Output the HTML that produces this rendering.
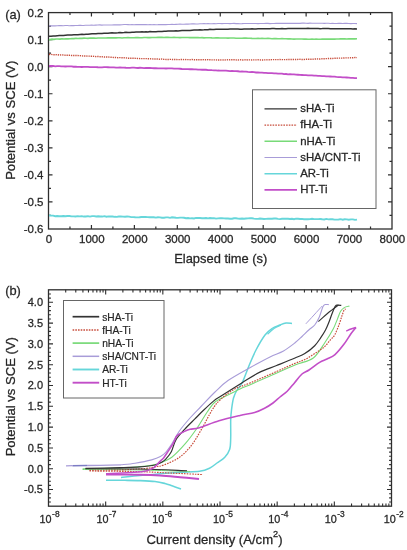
<!DOCTYPE html>
<html><head><meta charset="utf-8"><title>Figure</title>
<style>html,body{margin:0;padding:0;background:#fff;width:407px;height:550px;overflow:hidden}svg{display:block}</style>
</head><body>
<svg width="407" height="550" viewBox="0 0 407 550" font-family="Liberation Sans, Arial, sans-serif"><style>text{stroke:#2a2a2a;stroke-width:0.28px;paint-order:stroke}</style><rect x="48.5" y="12.6" width="343.5" height="216.4" fill="none" stroke="#2e2e2e" stroke-width="1.3"/>
<path d="M69.97 229 v-2.5 M69.97 12.6 v2.5 M91.44 229 v-4 M91.44 12.6 v4 M112.91 229 v-2.5 M112.91 12.6 v2.5 M134.38 229 v-4 M134.38 12.6 v4 M155.84 229 v-2.5 M155.84 12.6 v2.5 M177.31 229 v-4 M177.31 12.6 v4 M198.78 229 v-2.5 M198.78 12.6 v2.5 M220.25 229 v-4 M220.25 12.6 v4 M241.72 229 v-2.5 M241.72 12.6 v2.5 M263.19 229 v-4 M263.19 12.6 v4 M284.66 229 v-2.5 M284.66 12.6 v2.5 M306.12 229 v-4 M306.12 12.6 v4 M327.59 229 v-2.5 M327.59 12.6 v2.5 M349.06 229 v-4 M349.06 12.6 v4 M370.53 229 v-2.5 M370.53 12.6 v2.5 M48.5 215.47 h2.5 M392 215.47 h-2.5 M48.5 201.95 h4 M392 201.95 h-4 M48.5 188.42 h2.5 M392 188.42 h-2.5 M48.5 174.9 h4 M392 174.9 h-4 M48.5 161.38 h2.5 M392 161.38 h-2.5 M48.5 147.85 h4 M392 147.85 h-4 M48.5 134.32 h2.5 M392 134.32 h-2.5 M48.5 120.8 h4 M392 120.8 h-4 M48.5 107.27 h2.5 M392 107.27 h-2.5 M48.5 93.75 h4 M392 93.75 h-4 M48.5 80.22 h2.5 M392 80.22 h-2.5 M48.5 66.7 h4 M392 66.7 h-4 M48.5 53.18 h2.5 M392 53.18 h-2.5 M48.5 39.65 h4 M392 39.65 h-4 M48.5 26.12 h2.5 M392 26.12 h-2.5" stroke="#2e2e2e" stroke-width="1.2" fill="none"/>
<g font-size="11.5" fill="#262626"><text x="43.5" y="16.5" text-anchor="end">0.2</text><text x="43.5" y="43.55" text-anchor="end">0.1</text><text x="43.5" y="70.6" text-anchor="end">0.0</text><text x="43.5" y="97.65" text-anchor="end">-0.1</text><text x="43.5" y="124.7" text-anchor="end">-0.2</text><text x="43.5" y="151.75" text-anchor="end">-0.3</text><text x="43.5" y="178.8" text-anchor="end">-0.4</text><text x="43.5" y="205.85" text-anchor="end">-0.5</text><text x="43.5" y="232.9" text-anchor="end">-0.6</text><text x="48.9" y="243.2" text-anchor="middle">0</text><text x="91.84" y="243.2" text-anchor="middle">1000</text><text x="134.78" y="243.2" text-anchor="middle">2000</text><text x="177.71" y="243.2" text-anchor="middle">3000</text><text x="220.65" y="243.2" text-anchor="middle">4000</text><text x="263.59" y="243.2" text-anchor="middle">5000</text><text x="306.52" y="243.2" text-anchor="middle">6000</text><text x="349.46" y="243.2" text-anchor="middle">7000</text><text x="392.4" y="243.2" text-anchor="middle">8000</text></g>
<text x="5.2" y="18.9" font-size="12.8" fill="#262626">(a)</text>
<text x="220.8" y="263.3" font-size="12.9" fill="#262626" text-anchor="middle">Elapsed time (s)</text>
<text transform="translate(15.4 120.2) rotate(-90)" font-size="13.1" fill="#262626" text-anchor="middle">Potential vs SCE (V)</text>
<path d="M49 25.82 L51.03 25.88 L53.06 25.79 L55.09 25.83 L57.11 25.8 L59.14 25.6 L61.17 25.55 L63.2 25.76 L65.23 25.55 L67.26 25.51 L69.29 25.71 L71.31 25.51 L73.34 25.59 L75.37 25.45 L77.4 25.46 L79.43 25.28 L81.46 25.39 L83.49 25.43 L85.51 25.29 L87.54 25.32 L89.57 25.27 L91.6 25.05 L93.63 25.22 L95.66 25.14 L97.69 25.02 L99.71 24.9 L101.74 25.12 L103.77 24.97 L105.8 25.01 L107.83 25.02 L109.86 24.94 L111.89 24.96 L113.91 24.77 L115.94 24.86 L117.97 24.72 L120 24.83 L122 24.81 L124 24.56 L126 24.57 L128 24.58 L130 24.8 L132 24.63 L134 24.68 L136 24.57 L138 24.63 L140 24.58 L142 24.56 L144 24.63 L146 24.62 L148 24.7 L150 24.63 L152 24.7 L154 24.67 L156 24.7 L158 24.59 L160 24.43 L162 24.63 L164 24.66 L166 24.63 L168 24.52 L170 24.52 L172 24.33 L174 24.47 L176 24.35 L178 24.22 L180 24.11 L182 24.31 L184 24.3 L186 23.99 L188 24.16 L190 24 L192 23.88 L194 23.88 L196 23.98 L198 23.97 L200 23.68 L202 23.81 L204 23.59 L206 23.75 L208 23.59 L210 23.71 L212 23.74 L214 23.59 L216 23.74 L218 23.53 L220 23.45 L222 23.61 L224 23.43 L226 23.48 L228 23.54 L230 23.59 L232 23.45 L234 23.41 L236 23.66 L238 23.49 L240 23.68 L242 23.65 L244 23.5 L246 23.52 L248 23.53 L250 23.56 L252 23.54 L254 23.53 L256 23.54 L258 23.64 L260 23.5 L262 23.47 L264 23.54 L266 23.39 L268 23.39 L270 23.58 L272 23.43 L274 23.43 L276 23.26 L278 23.37 L280 23.4 L282 23.22 L284 23.39 L286 23.38 L288 23.2 L290 23.36 L292 23.3 L294 23.35 L296 23.24 L298 23.33 L300 23.33 L302 23.1 L304 23.1 L306 23.28 L308 23.35 L310 23.13 L312.04 23.2 L314.09 23.26 L316.13 23.2 L318.17 23.23 L320.22 23.23 L322.26 23.27 L324.3 23.35 L326.35 23.28 L328.39 23.32 L330.43 23.46 L332.48 23.25 L334.52 23.43 L336.57 23.5 L338.61 23.39 L340.65 23.38 L342.7 23.57 L344.74 23.42 L346.78 23.42 L348.83 23.51 L350.87 23.61 L352.91 23.45 L354.96 23.53 L357 23.6" stroke="#a89cd8" stroke-width="1.1" fill="none"/>
<path d="M49 36.15 L51.07 36.19 L53.13 35.95 L55.2 35.97 L57.27 35.65 L59.33 35.58 L61.4 35.57 L63.47 35.52 L65.53 35.28 L67.6 35.1 L69.67 34.95 L71.73 34.96 L73.8 34.75 L75.87 34.82 L77.93 34.71 L80 34.41 L82 34.34 L84 34.4 L86 34.26 L88 34.21 L90 33.98 L92 33.82 L94 33.77 L96 33.83 L98 33.58 L100 33.5 L102 33.43 L104 33.34 L106 33.24 L108 33.3 L110 32.97 L112 32.83 L114 33.02 L116 32.9 L118 32.84 L120 32.58 L122 32.68 L124 32.61 L126 32.34 L128 32.44 L130 32.41 L132 32.3 L134 32.2 L136 32.07 L138 32.03 L140 31.93 L142 31.83 L144 31.93 L146 31.78 L148 31.88 L150 31.59 L152 31.79 L154 31.67 L156 31.68 L158 31.61 L160 31.55 L162 31.4 L164 31.17 L166 31.33 L168 31.1 L170 31.06 L172 31.09 L174 30.96 L176 30.85 L178 30.93 L180 30.75 L182 30.59 L184 30.48 L186 30.58 L188 30.38 L190 30.39 L192 30.18 L194 30.06 L196 30.08 L198 30.08 L200 29.81 L202 29.91 L204 29.87 L206 29.75 L208 29.68 L210 29.35 L212 29.51 L214 29.55 L216 29.28 L218 29.32 L220 29.29 L222 29.34 L224 29.28 L226 29.27 L228 29.33 L230 29.07 L232 29.06 L234 29.05 L236 29.02 L238 28.98 L240 29.22 L242 29.16 L244 28.9 L246 29 L248 28.91 L250 28.88 L252 28.87 L254 28.93 L256 28.88 L258 28.79 L260 28.71 L262 28.73 L264 28.66 L266 28.77 L268 28.8 L270 28.68 L272 28.58 L274 28.59 L276 28.63 L278 28.69 L280 28.72 L282 28.59 L284 28.7 L286 28.63 L288 28.56 L290 28.52 L292 28.54 L294 28.59 L296 28.49 L298 28.55 L300 28.47 L302 28.39 L304 28.46 L306 28.49 L308 28.29 L310 28.38 L312.04 28.4 L314.09 28.56 L316.13 28.6 L318.17 28.45 L320.22 28.63 L322.26 28.62 L324.3 28.48 L326.35 28.56 L328.39 28.48 L330.43 28.71 L332.48 28.69 L334.52 28.78 L336.57 28.77 L338.61 28.75 L340.65 28.8 L342.7 28.77 L344.74 28.65 L346.78 28.82 L348.83 28.66 L350.87 28.73 L352.91 28.94 L354.96 28.74 L357 28.9" stroke="#333333" stroke-width="1.5" fill="none"/>
<path d="M49 39.88 L52 39.18 L54 39.34 L56 39.06 L58 38.94 L60 39.12 L62 38.83 L64 38.97 L66 38.85 L68 38.83 L70 38.79 L72 38.61 L74 38.6 L76 38.3 L78 38.45 L80 38.3 L82 38.34 L84 38.13 L86 38.3 L88 38.33 L90 38.04 L92 38.1 L94 38.14 L96 38.2 L98 38 L100 37.95 L102 37.95 L104 38.03 L106 38.05 L108 37.92 L110 37.89 L112 37.87 L114 37.83 L116 37.83 L118 37.7 L120 37.8 L122 37.93 L124 37.74 L126 37.82 L128 37.63 L130 37.77 L132 37.78 L134 37.74 L136 37.67 L138 37.65 L140 37.68 L142 37.74 L144 37.49 L146 37.46 L148 37.64 L150 37.67 L152 37.54 L154 37.5 L156 37.57 L158 37.39 L160 37.4 L162 37.36 L164 37.46 L166 37.36 L168 37.32 L170 37.48 L172 37.57 L174 37.4 L176 37.54 L178 37.47 L180 37.62 L182 37.56 L184 37.48 L186 37.49 L188 37.45 L190 37.6 L192 37.59 L194 37.55 L196 37.62 L198 37.63 L200 37.79 L202 37.62 L204 37.89 L206 37.76 L208 37.81 L210 37.79 L212 37.92 L214 37.94 L216 37.89 L218 37.89 L220 37.99 L222 38.05 L224 37.94 L226 38.06 L228 38.15 L230 38.03 L232 37.98 L234 38.01 L236 38.18 L238 38.19 L240 38.3 L242 38.29 L244 38.13 L246 38.14 L248 38.18 L250 38.19 L252 38.37 L254 38.44 L256 38.47 L258 38.3 L260 38.51 L262 38.38 L264 38.44 L266 38.56 L268 38.4 L270 38.44 L272 38.69 L274 38.56 L276 38.61 L278 38.71 L280 38.77 L282 38.6 L284 38.73 L286 38.8 L288 38.84 L290 38.79 L292 38.94 L294 39.08 L296 38.94 L298 39.02 L300 38.93 L302 39 L304 39.15 L306 39.02 L308 39.28 L310 39.32 L312.04 39.06 L314.09 39.3 L316.13 39.11 L318.17 39.21 L320.22 39.19 L322.26 39.03 L324.3 39.13 L326.35 39.11 L328.39 39.14 L330.43 38.96 L332.48 39.08 L334.52 39.13 L336.57 39.03 L338.61 38.97 L340.65 38.82 L342.7 38.92 L344.74 38.86 L346.78 38.95 L348.83 38.92 L350.87 38.87 L352.91 38.74 L354.96 38.86 L357 38.8" stroke="#78da78" stroke-width="1.6" fill="none"/>
<path d="M49 54.44 L51.05 54.39 L53.1 54.7 L55.15 54.72 L57.2 54.65 L59.25 54.98 L61.3 54.83 L63.35 54.98 L65.4 55.19 L67.45 55.24 L69.5 55.32 L71.55 55.43 L73.6 55.47 L75.65 55.51 L77.7 55.56 L79.75 55.62 L81.8 55.9 L83.85 56.01 L85.9 56.03 L87.95 56.18 L90 56.16 L92 56.23 L94 56.37 L96 56.61 L98 56.46 L100 56.7 L102 56.72 L104 56.98 L106 56.96 L108 57.05 L110 57.17 L112 57.31 L114 57.48 L116 57.46 L118 57.7 L120 57.58 L122 57.73 L124 57.78 L126 57.88 L128 58.18 L130 58.27 L132 58.17 L134 58.23 L136 58.36 L138 58.53 L140 58.61 L142 58.65 L144 58.67 L146 58.6 L148 58.74 L150 58.74 L152 58.9 L154 58.98 L156 58.93 L158 59.01 L160 59.23 L162 59.07 L164 59.36 L166 59.45 L168 59.53 L170 59.38 L172 59.45 L174 59.48 L176 59.52 L178 59.64 L180 59.57 L182 59.47 L184 59.66 L186 59.57 L188 59.62 L190 59.68 L192 59.48 L194 59.73 L196 59.72 L198 59.69 L200 59.71 L202 59.72 L204 59.65 L206 59.77 L208 59.65 L210 59.8 L212 59.87 L214 59.83 L216 59.88 L218 60.02 L220 60.02 L222 59.79 L224 59.98 L226 59.92 L228 59.75 L230 59.84 L232 59.8 L234 59.74 L236 59.88 L238 59.99 L240 59.81 L242 59.97 L244 59.91 L246 59.74 L248 59.95 L250 59.87 L252 59.96 L254 59.89 L256 59.9 L258 59.77 L260 59.91 L262 59.94 L264 59.92 L266 59.79 L268 59.88 L270 59.77 L272 59.64 L274 59.59 L276 59.58 L278 59.59 L280 59.56 L282 59.63 L284 59.67 L286 59.6 L288 59.54 L290 59.58 L292 59.46 L294 59.48 L296 59.54 L298 59.41 L300 59.32 L302 59.52 L304 59.44 L306 59.31 L308 59.29 L310 59.31 L312.04 59.26 L314.09 59.07 L316.13 58.93 L318.17 58.92 L320.22 59.02 L322.26 58.75 L324.3 58.77 L326.35 58.62 L328.39 58.55 L330.43 58.46 L332.48 58.46 L334.52 58.31 L336.57 58.2 L338.61 58.15 L340.65 58.09 L342.7 58.11 L344.74 57.91 L346.78 57.83 L348.83 57.88 L350.87 57.79 L352.91 57.81 L354.96 57.54 L357 57.6" stroke="#c84e3c" stroke-width="1.4" fill="none" stroke-dasharray="1.3 0.9"/>
<path d="M49 65.97 L51.05 66.02 L53.1 65.97 L55.15 66.3 L57.2 66.14 L59.25 66.15 L61.3 66.32 L63.35 66.28 L65.4 66.48 L67.45 66.45 L69.5 66.44 L71.55 66.47 L73.6 66.73 L75.65 66.65 L77.7 66.86 L79.75 66.81 L81.8 67.01 L83.85 66.88 L85.9 66.91 L87.95 66.97 L90 67.19 L92 67.17 L94 67.11 L96 67.07 L98 67.27 L100 67.39 L102 67.31 L104 67.16 L106 67.2 L108 67.25 L110 67.3 L112 67.29 L114 67.33 L116 67.54 L118 67.64 L120 67.46 L122 67.72 L124 67.6 L126 67.73 L128 67.8 L130 67.83 L132 67.6 L134 67.72 L136 67.84 L138 67.98 L140 67.76 L142 67.86 L144 68.06 L146 67.88 L148 68 L150 68.02 L152 68.16 L154 68.27 L156 68.08 L158 68.29 L160 68.32 L162 68.39 L164 68.34 L166 68.49 L168 68.36 L170 68.45 L172 68.47 L174 68.71 L176 68.7 L178 68.71 L180 68.76 L182 69 L184 69.04 L186 69.15 L188 69.13 L190 69.23 L192 69.21 L194 69.45 L196 69.32 L198 69.53 L200 69.7 L202 69.75 L204 69.65 L206 69.77 L208 70.03 L210 70.04 L212 70.21 L214 70.31 L216 70.28 L218 70.52 L220 70.57 L222 70.55 L224 70.66 L226 70.67 L228 70.87 L230 71.14 L232 70.98 L234 71.22 L236 71.18 L238 71.27 L240 71.54 L242 71.52 L244 71.56 L246 71.7 L248 71.94 L250 72.03 L252 71.97 L254 72.15 L256 72.49 L258 72.38 L260 72.6 L262 72.67 L264 72.89 L266 72.96 L268 73.13 L270 73.17 L272 73.18 L274 73.29 L276 73.38 L278 73.72 L280 73.62 L282 73.71 L284 74.11 L286 73.99 L288 74.32 L290 74.18 L292 74.4 L294 74.44 L296 74.72 L298 74.77 L300 74.88 L302 75.02 L304 75.16 L306 75.11 L308 75.29 L310 75.35 L312 75.36 L314 75.68 L316 75.72 L318 75.89 L320 75.81 L322.06 76.04 L324.11 76.14 L326.17 76.35 L328.22 76.28 L330.28 76.49 L332.33 76.66 L334.39 76.67 L336.44 76.94 L338.5 77.12 L340.56 77.15 L342.61 77.35 L344.67 77.47 L346.72 77.48 L348.78 77.64 L350.83 77.97 L352.89 77.9 L354.94 78.05 L357 78.2" stroke="#c24ec8" stroke-width="1.8" fill="none"/>
<path d="M49 215.51 L51.05 215.63 L53.1 215.62 L55.15 216.18 L57.2 216.06 L59.25 216.19 L61.3 216.29 L63.35 216.05 L65.4 216.3 L67.45 216.05 L69.5 215.99 L71.55 216.39 L73.6 216.38 L75.65 216.44 L77.7 216.14 L79.75 216.37 L81.8 216.13 L83.85 216.57 L85.9 216.54 L87.95 216.13 L90 216.6 L92.06 216.11 L94.12 216.08 L96.18 216.54 L98.24 216.27 L100.29 216.46 L102.35 216.57 L104.41 216.18 L106.47 216.71 L108.53 216.41 L110.59 216.55 L112.65 216.51 L114.71 216.82 L116.76 216.86 L118.82 216.56 L120.88 216.46 L122.94 216.63 L125 216.74 L127.06 216.54 L129.12 216.63 L131.18 217.09 L133.24 217.08 L135.29 217.31 L137.35 217.35 L139.41 217.31 L141.47 216.99 L143.53 216.88 L145.59 217.02 L147.65 217.16 L149.71 217.24 L151.76 217.29 L153.82 217.2 L155.88 217.58 L157.94 217.21 L160 217.37 L162 217.72 L164 217.7 L166 217.39 L168 217.4 L170 217.84 L172 217.33 L174 217.46 L176 217.78 L178 217.83 L180 217.62 L182 217.58 L184 217.73 L186 218.17 L188 218.01 L190 218.41 L192 218.32 L194 218.5 L196 217.88 L198 218.03 L200 217.96 L202 218.26 L204 218.21 L206 218.02 L208 218.37 L210 218.07 L212 218.23 L214 218.19 L216 218.59 L218 218.33 L220 218.23 L222 218.09 L224 218.37 L226 218.52 L228 218.56 L230 218.74 L232 218.68 L234 218.29 L236 218.22 L238 218.67 L240 218.7 L242 218.52 L244 218.75 L246 218.57 L248 218.39 L250 218.32 L252 218.22 L254 218.67 L256 218.86 L258 218.87 L260 218.58 L262 218.73 L264 218.93 L266 218.87 L268 218.74 L270 218.62 L272 218.71 L274 218.48 L276 218.51 L278 218.87 L280 219.1 L282 218.81 L284 218.73 L286 218.7 L288 218.79 L290 219.05 L292 218.82 L294 219.19 L296 218.65 L298 218.77 L300 218.94 L302 218.87 L304 219.2 L306 219.2 L308 219.29 L310 219.08 L312.04 218.7 L314.09 219.1 L316.13 219.11 L318.17 219.1 L320.22 218.98 L322.26 219.3 L324.3 219.47 L326.35 218.93 L328.39 219.35 L330.43 219.17 L332.48 219.3 L334.52 219.59 L336.57 219.66 L338.61 219.47 L340.65 219.18 L342.7 219.71 L344.74 219.22 L346.78 219.39 L348.83 219.73 L350.87 219.39 L352.91 219.39 L354.96 219.89 L357 219.6" stroke="#66d6da" stroke-width="1.9" fill="none"/>
<rect x="252.5" y="89.8" width="123.5" height="118.7" fill="#fff" stroke="#666" stroke-width="1"/>
<path d="M264.5 108.9 H297" stroke="#333333" stroke-width="1.4000000000000001"/>
<text x="300.2" y="112.1" font-size="11.4" fill="#262626">sHA-Ti</text>
<path d="M264.5 125.1 H297" stroke="#c84e3c" stroke-width="1.2000000000000002" stroke-dasharray="1.6 1.1"/>
<text x="300.2" y="128.3" font-size="11.4" fill="#262626">fHA-Ti</text>
<path d="M264.5 141.3 H297" stroke="#78da78" stroke-width="1.4000000000000001"/>
<text x="300.2" y="144.5" font-size="11.4" fill="#262626">nHA-Ti</text>
<path d="M264.5 157.5 H297" stroke="#a89cd8" stroke-width="1.2000000000000002"/>
<text x="300.2" y="160.7" font-size="11.4" fill="#262626">sHA/CNT-Ti</text>
<path d="M264.5 173.7 H297" stroke="#66d6da" stroke-width="1.6"/>
<text x="300.2" y="176.9" font-size="11.4" fill="#262626">AR-Ti</text>
<path d="M264.5 189.9 H297" stroke="#c24ec8" stroke-width="1.6"/>
<text x="300.2" y="193.1" font-size="11.4" fill="#262626">HT-Ti</text>
<rect x="48.5" y="289.8" width="343" height="216.4" fill="none" stroke="#2e2e2e" stroke-width="1.3"/>
<path d="M65.71 506.2 v-2.6 M65.71 289.8 v2.6 M75.78 506.2 v-2.6 M75.78 289.8 v2.6 M82.92 506.2 v-2.6 M82.92 289.8 v2.6 M88.46 506.2 v-2.6 M88.46 289.8 v2.6 M92.98 506.2 v-2.6 M92.98 289.8 v2.6 M96.81 506.2 v-2.6 M96.81 289.8 v2.6 M100.13 506.2 v-2.6 M100.13 289.8 v2.6 M103.05 506.2 v-2.6 M103.05 289.8 v2.6 M105.67 506.2 v-4.6 M105.67 289.8 v4.6 M122.88 506.2 v-2.6 M122.88 289.8 v2.6 M132.94 506.2 v-2.6 M132.94 289.8 v2.6 M140.08 506.2 v-2.6 M140.08 289.8 v2.6 M145.62 506.2 v-2.6 M145.62 289.8 v2.6 M150.15 506.2 v-2.6 M150.15 289.8 v2.6 M153.98 506.2 v-2.6 M153.98 289.8 v2.6 M157.29 506.2 v-2.6 M157.29 289.8 v2.6 M160.22 506.2 v-2.6 M160.22 289.8 v2.6 M162.83 506.2 v-4.6 M162.83 289.8 v4.6 M180.04 506.2 v-2.6 M180.04 289.8 v2.6 M190.11 506.2 v-2.6 M190.11 289.8 v2.6 M197.25 506.2 v-2.6 M197.25 289.8 v2.6 M202.79 506.2 v-2.6 M202.79 289.8 v2.6 M207.32 506.2 v-2.6 M207.32 289.8 v2.6 M211.14 506.2 v-2.6 M211.14 289.8 v2.6 M214.46 506.2 v-2.6 M214.46 289.8 v2.6 M217.38 506.2 v-2.6 M217.38 289.8 v2.6 M220 506.2 v-4.6 M220 289.8 v4.6 M237.21 506.2 v-2.6 M237.21 289.8 v2.6 M247.28 506.2 v-2.6 M247.28 289.8 v2.6 M254.42 506.2 v-2.6 M254.42 289.8 v2.6 M259.96 506.2 v-2.6 M259.96 289.8 v2.6 M264.48 506.2 v-2.6 M264.48 289.8 v2.6 M268.31 506.2 v-2.6 M268.31 289.8 v2.6 M271.63 506.2 v-2.6 M271.63 289.8 v2.6 M274.55 506.2 v-2.6 M274.55 289.8 v2.6 M277.17 506.2 v-4.6 M277.17 289.8 v4.6 M294.38 506.2 v-2.6 M294.38 289.8 v2.6 M304.44 506.2 v-2.6 M304.44 289.8 v2.6 M311.58 506.2 v-2.6 M311.58 289.8 v2.6 M317.12 506.2 v-2.6 M317.12 289.8 v2.6 M321.65 506.2 v-2.6 M321.65 289.8 v2.6 M325.48 506.2 v-2.6 M325.48 289.8 v2.6 M328.79 506.2 v-2.6 M328.79 289.8 v2.6 M331.72 506.2 v-2.6 M331.72 289.8 v2.6 M334.33 506.2 v-4.6 M334.33 289.8 v4.6 M351.54 506.2 v-2.6 M351.54 289.8 v2.6 M361.61 506.2 v-2.6 M361.61 289.8 v2.6 M368.75 506.2 v-2.6 M368.75 289.8 v2.6 M374.29 506.2 v-2.6 M374.29 289.8 v2.6 M378.82 506.2 v-2.6 M378.82 289.8 v2.6 M382.64 506.2 v-2.6 M382.64 289.8 v2.6 M385.96 506.2 v-2.6 M385.96 289.8 v2.6 M388.88 506.2 v-2.6 M388.88 289.8 v2.6 M48.5 502.04 h2.4 M391.5 502.04 h-2.4 M48.5 497.88 h2.4 M391.5 497.88 h-2.4 M48.5 493.72 h2.4 M391.5 493.72 h-2.4 M48.5 489.55 h4.5 M391.5 489.55 h-4.5 M48.5 485.39 h2.4 M391.5 485.39 h-2.4 M48.5 481.23 h2.4 M391.5 481.23 h-2.4 M48.5 477.07 h2.4 M391.5 477.07 h-2.4 M48.5 472.91 h2.4 M391.5 472.91 h-2.4 M48.5 468.75 h4.5 M391.5 468.75 h-4.5 M48.5 464.58 h2.4 M391.5 464.58 h-2.4 M48.5 460.42 h2.4 M391.5 460.42 h-2.4 M48.5 456.26 h2.4 M391.5 456.26 h-2.4 M48.5 452.1 h2.4 M391.5 452.1 h-2.4 M48.5 447.94 h4.5 M391.5 447.94 h-4.5 M48.5 443.78 h2.4 M391.5 443.78 h-2.4 M48.5 439.62 h2.4 M391.5 439.62 h-2.4 M48.5 435.45 h2.4 M391.5 435.45 h-2.4 M48.5 431.29 h2.4 M391.5 431.29 h-2.4 M48.5 427.13 h4.5 M391.5 427.13 h-4.5 M48.5 422.97 h2.4 M391.5 422.97 h-2.4 M48.5 418.81 h2.4 M391.5 418.81 h-2.4 M48.5 414.65 h2.4 M391.5 414.65 h-2.4 M48.5 410.48 h2.4 M391.5 410.48 h-2.4 M48.5 406.32 h4.5 M391.5 406.32 h-4.5 M48.5 402.16 h2.4 M391.5 402.16 h-2.4 M48.5 398 h2.4 M391.5 398 h-2.4 M48.5 393.84 h2.4 M391.5 393.84 h-2.4 M48.5 389.68 h2.4 M391.5 389.68 h-2.4 M48.5 385.52 h4.5 M391.5 385.52 h-4.5 M48.5 381.35 h2.4 M391.5 381.35 h-2.4 M48.5 377.19 h2.4 M391.5 377.19 h-2.4 M48.5 373.03 h2.4 M391.5 373.03 h-2.4 M48.5 368.87 h2.4 M391.5 368.87 h-2.4 M48.5 364.71 h4.5 M391.5 364.71 h-4.5 M48.5 360.55 h2.4 M391.5 360.55 h-2.4 M48.5 356.38 h2.4 M391.5 356.38 h-2.4 M48.5 352.22 h2.4 M391.5 352.22 h-2.4 M48.5 348.06 h2.4 M391.5 348.06 h-2.4 M48.5 343.9 h4.5 M391.5 343.9 h-4.5 M48.5 339.74 h2.4 M391.5 339.74 h-2.4 M48.5 335.58 h2.4 M391.5 335.58 h-2.4 M48.5 331.42 h2.4 M391.5 331.42 h-2.4 M48.5 327.25 h2.4 M391.5 327.25 h-2.4 M48.5 323.09 h4.5 M391.5 323.09 h-4.5 M48.5 318.93 h2.4 M391.5 318.93 h-2.4 M48.5 314.77 h2.4 M391.5 314.77 h-2.4 M48.5 310.61 h2.4 M391.5 310.61 h-2.4 M48.5 306.45 h2.4 M391.5 306.45 h-2.4 M48.5 302.28 h4.5 M391.5 302.28 h-4.5 M48.5 298.12 h2.4 M391.5 298.12 h-2.4 M48.5 293.96 h2.4 M391.5 293.96 h-2.4" stroke="#2e2e2e" stroke-width="1.1" fill="none"/>
<g font-size="11" fill="#262626"><text x="43" y="306.18" text-anchor="end">4.0</text><text x="43" y="326.99" text-anchor="end">3.5</text><text x="43" y="347.8" text-anchor="end">3.0</text><text x="43" y="368.61" text-anchor="end">2.5</text><text x="43" y="389.42" text-anchor="end">2.0</text><text x="43" y="410.22" text-anchor="end">1.5</text><text x="43" y="431.03" text-anchor="end">1.0</text><text x="43" y="451.84" text-anchor="end">0.5</text><text x="43" y="472.65" text-anchor="end">0.0</text><text x="43" y="493.45" text-anchor="end">-0.5</text></g>
<text x="39.6" y="523.1" font-size="10.8" fill="#262626">10<tspan font-size="8.4" dx="0.5" dy="-6">-8</tspan></text><text x="96.47" y="523.1" font-size="10.8" fill="#262626">10<tspan font-size="8.4" dx="0.5" dy="-6">-7</tspan></text><text x="152.23" y="523.1" font-size="10.8" fill="#262626">10<tspan font-size="8.4" dx="0.5" dy="-6">-6</tspan></text><text x="213" y="523.1" font-size="10.8" fill="#262626">10<tspan font-size="8.4" dx="0.5" dy="-6">-5</tspan></text><text x="268.37" y="523.1" font-size="10.8" fill="#262626">10<tspan font-size="8.4" dx="0.5" dy="-6">-4</tspan></text><text x="324.73" y="523.1" font-size="10.8" fill="#262626">10<tspan font-size="8.4" dx="0.5" dy="-6">-3</tspan></text><text x="383.7" y="523.1" font-size="10.8" fill="#262626">10<tspan font-size="8.4" dx="0.5" dy="-6">-2</tspan></text>
<text x="5.2" y="294.5" font-size="12.8" fill="#262626">(b)</text>
<text x="214.5" y="544" font-size="13.1" fill="#262626" text-anchor="middle">Current density (A/cm<tspan font-size="9.2" dy="-6.6">2</tspan><tspan dy="6.6">)</tspan></text>
<text transform="translate(15.4 396.7) rotate(-90)" font-size="13.1" fill="#262626" text-anchor="middle">Potential vs SCE (V)</text>
<path d="M106 480.2 C109.17 480.22 119.33 480.23 125 480.3 C130.67 480.37 135 480.4 140 480.6 C145 480.8 150.83 481.02 155 481.5 C159.17 481.98 162.17 482.78 165 483.5 C167.83 484.22 169.33 484.88 172 485.8 C174.67 486.72 179.5 488.47 181 489" stroke="#66d6da" stroke-width="1.6" fill="none" stroke-linejoin="round"/>
<path d="M121 477.5 C124.17 477.17 133.5 476.12 140 475.5 C146.5 474.88 153.33 474.35 160 473.8 C166.67 473.25 173.4 472.62 180 472.2 C186.6 471.78 194.68 471.95 199.6 471.3 C204.52 470.65 206.6 469.68 209.5 468.3 C212.4 466.92 214.45 464.85 217 463 C219.55 461.15 222.68 459.48 224.8 457.2 C226.92 454.92 228.72 452.5 229.7 449.3 C230.68 446.1 230.53 442.88 230.7 438 C230.87 433.12 230.57 424.67 230.7 420 C230.83 415.33 231.03 413.67 231.5 410 C231.97 406.33 232.58 401.33 233.5 398 C234.42 394.67 235.55 392.55 237 390 C238.45 387.45 240.18 386.78 242.2 382.7 C244.22 378.62 246.8 370.95 249.1 365.5 C251.4 360.05 253.35 355.08 256 350 C258.65 344.92 262.33 338.58 265 335 C267.67 331.42 269.53 330.17 272 328.5 C274.47 326.83 277.47 325.92 279.8 325 C282.13 324.08 283.97 323.25 286 323 C288.03 322.75 291 323.42 292 323.5" stroke="#66d6da" stroke-width="1.5" fill="none" stroke-linejoin="round"/>
<path d="M267.6 334.2 C268.67 333.25 271.77 330.03 274 328.5 C276.23 326.97 279.83 325.58 281 325" stroke="#66d6da" stroke-width="1.2" fill="none" stroke-linejoin="round"/>
<path d="M66 465.8 L72.5 465.7" stroke="#a89cd8" stroke-width="1.2" fill="none" stroke-linejoin="round"/>
<path d="M72.5 465.7 L87 465.5" stroke="#7c7cc4" stroke-width="1.4" fill="none" stroke-linejoin="round"/>
<path d="M87 465.5 C89.17 465.47 94.33 465.42 100 465.3 C105.67 465.18 117.5 464.88 121 464.8" stroke="#a89cd8" stroke-width="1.3" fill="none" stroke-linejoin="round"/>
<path d="M121 464.8 C123.33 464.53 129.9 464.02 135 463.2 C140.1 462.38 147.37 461 151.6 459.9 C155.83 458.8 158 457.92 160.4 456.6 C162.8 455.28 164.07 454.18 166 452 C167.93 449.82 169.77 447 172 443.5 C174.23 440 176.4 435.25 179.4 431 C182.4 426.75 186.4 422.08 190 418 C193.6 413.92 196.83 410.83 201 406.5 C205.17 402.17 210.5 396.33 215 392 C219.5 387.67 222.03 384.63 228 380.5 C233.97 376.37 243.8 371.13 250.8 367.2 C257.8 363.27 264.55 359.62 270 356.9 C275.45 354.18 279.33 353.25 283.5 350.9 C287.67 348.55 291.92 345.2 295 342.8 C298.08 340.4 299.7 338.63 302 336.5 C304.3 334.37 306.68 331.92 308.8 330 C310.92 328.08 312.97 327.13 314.7 325 C316.43 322.87 317.83 320.23 319.2 317.2 C320.57 314.17 321.92 308.9 322.9 306.8 C323.88 304.7 324.12 304.97 325.1 304.6 C326.08 304.23 328.18 304.6 328.8 304.6" stroke="#a89cd8" stroke-width="1.1" fill="none" stroke-linejoin="round"/>
<path d="M305.9 323.8 C307.25 322.33 311.3 317.95 314 315 C316.7 312.05 320.75 307.58 322.1 306.1" stroke="#a89cd8" stroke-width="1.0" fill="none" stroke-linejoin="round"/>
<path d="M82.6 468.8 C87.17 468.7 102.1 468.42 110 468.2 C117.9 467.98 123.33 467.95 130 467.5 C136.67 467.05 145 466.25 150 465.5 C155 464.75 156.37 464.38 160 463 C163.63 461.62 167.55 460.47 171.8 457.2 C176.05 453.93 181.25 448.32 185.5 443.4 C189.75 438.48 193.68 432.93 197.3 427.7 C200.92 422.47 204.25 416.28 207.2 412 C210.15 407.72 211.47 404.87 215 402 C218.53 399.13 224.23 396.97 228.4 394.8 C232.57 392.63 236.27 390.73 240 389 C243.73 387.27 245.8 386.57 250.8 384.4 C255.8 382.23 262.63 379.23 270 376 C277.37 372.77 287.78 368 295 365 C302.22 362 308.28 361.8 313.3 358 C318.32 354.2 321.78 347.03 325.1 342.2 C328.42 337.37 331.12 332.93 333.2 329 C335.28 325.07 336.37 321.55 337.6 318.6 C338.83 315.65 339.5 313.13 340.6 311.3 C341.7 309.47 342.73 308.47 344.2 307.6 C345.67 306.73 348.53 306.35 349.4 306.1" stroke="#78da78" stroke-width="1.1" fill="none" stroke-linejoin="round"/>
<path d="M82.6 469.5 C92.17 469.58 122.1 469.67 140 470 C157.9 470.33 181.67 471.25 190 471.5" stroke="#78da78" stroke-width="1.0" fill="none" stroke-linejoin="round"/>
<path d="M89.5 470.3 C94.58 470.25 110.75 470.3 120 470 C129.25 469.7 139.17 469.03 145 468.5 C150.83 467.97 151.85 467.38 155 466.8 C158.15 466.22 159.8 466.6 163.9 465 C168 463.4 175.02 460.47 179.6 457.2 C184.18 453.93 187.78 450 191.4 445.4 C195.02 440.8 197.85 435.5 201.3 429.6 C204.75 423.7 208.98 414.93 212.1 410 C215.22 405.07 216.42 403.4 220 400 C223.58 396.6 228.47 392.48 233.6 389.6 C238.73 386.72 243.63 385.72 250.8 382.7 C257.97 379.68 269.3 374.7 276.6 371.5 C283.9 368.3 289.9 365.5 294.6 363.5 C299.3 361.5 301.45 361.15 304.8 359.5 C308.15 357.85 311.42 355.73 314.7 353.6 C317.98 351.47 321.88 349 324.5 346.7 C327.12 344.4 328.7 341.77 330.4 339.8 C332.1 337.83 333.25 337.45 334.7 334.9 C336.15 332.35 337.88 327.7 339.1 324.5 C340.32 321.3 341.15 318.15 342 315.7 C342.85 313.25 343.58 310.9 344.2 309.8 C344.82 308.7 345.45 309.22 345.7 309.1" stroke="#c84e3c" stroke-width="1.2" fill="none" stroke-linejoin="round" stroke-dasharray="1.6 1.1"/>
<path d="M89.5 471 C97.92 471.12 126.58 471.37 140 471.7 C153.42 472.03 159.52 472.52 170 473 C180.48 473.48 197.42 474.33 202.9 474.6" stroke="#c84e3c" stroke-width="1.1" fill="none" stroke-linejoin="round" stroke-dasharray="1.6 1.1"/>
<path d="M85.5 468.4 C91.25 468.27 110.92 467.87 120 467.6 C129.08 467.33 134.17 467.23 140 466.8 C145.83 466.37 151.33 465.8 155 465 C158.67 464.2 160.17 463.03 162 462 C163.83 460.97 164.45 460.52 166 458.8 C167.55 457.08 169.63 454.9 171.3 451.7 C172.97 448.5 173.78 443.33 176 439.6 C178.22 435.87 181.45 432.75 184.6 429.3 C187.75 425.85 191.75 422.07 194.9 418.9 C198.05 415.73 200.35 413.3 203.5 410.3 C206.65 407.3 210.87 403.28 213.8 400.9 C216.73 398.52 216.37 399.03 221.1 396 C225.83 392.97 235.82 386.63 242.2 382.7 C248.58 378.77 253.67 375.27 259.4 372.4 C265.13 369.53 270.67 367.9 276.6 365.5 C282.53 363.1 290.3 359.98 295 358 C299.7 356.02 301.52 355.65 304.8 353.6 C308.08 351.55 312.07 348.32 314.7 345.7 C317.33 343.08 318.8 340.52 320.6 337.9 C322.4 335.28 324.1 332.65 325.5 330 C326.9 327.35 327.85 324.88 329 322 C330.15 319.12 331.33 315.35 332.4 312.7 C333.47 310.05 334.53 307.37 335.4 306.1 C336.27 304.83 336.62 305.22 337.6 305.1 C338.58 304.98 340.68 305.35 341.3 305.4" stroke="#333333" stroke-width="1.2" fill="none" stroke-linejoin="round"/>
<path d="M338.5 305 C336.75 306.33 331.35 310.23 328 313 C324.65 315.77 320 320.17 318.4 321.6" stroke="#333333" stroke-width="1.1" fill="none" stroke-linejoin="round"/>
<path d="M85.5 468.8 C94.58 468.83 123.08 468.68 140 469 C156.92 469.32 179.17 470.42 187 470.7" stroke="#333333" stroke-width="1.1" fill="none" stroke-linejoin="round"/>
<path d="M106 474.6 C111.67 474.63 131 474.65 140 474.8 C149 474.95 153.33 475.1 160 475.5 C166.67 475.9 173.5 476.62 180 477.2 C186.5 477.78 195.83 478.7 199 479" stroke="#c24ec8" stroke-width="1.9" fill="none" stroke-linejoin="round"/>
<path d="M106 473.8 C110 473.58 123.32 472.97 130 472.5 C136.68 472.03 142.13 471.8 146.1 471 C150.07 470.2 151.6 469.18 153.8 467.7 C156 466.22 157.63 463.77 159.3 462.1 C160.97 460.43 162.32 459.53 163.8 457.7 C165.28 455.87 166.73 453.32 168.2 451.1 C169.67 448.88 171.5 446.25 172.6 444.4 C173.7 442.55 174.15 441.37 174.8 440 C175.45 438.63 175.63 437.27 176.5 436.2 C177.37 435.13 178.85 434.32 180 433.6 C181.15 432.88 181.73 432.62 183.4 431.9 C185.07 431.18 187.35 430 190 429.3 C192.65 428.6 194.47 429.12 199.3 427.7 C204.13 426.28 212.22 422.83 219 420.8 C225.78 418.77 234.07 416.88 240 415.5 C245.93 414.12 250.43 413.75 254.6 412.5 C258.77 411.25 261.93 409.58 265 408 C268.07 406.42 270.5 404.83 273 403 C275.5 401.17 277.63 398.95 280 397 C282.37 395.05 284.77 393.68 287.2 391.3 C289.63 388.92 292.13 385.58 294.6 382.7 C297.07 379.82 299.6 376.12 302 374 C304.4 371.88 306.07 371.93 309 370 C311.93 368.07 316.6 364.23 319.6 362.4 C322.6 360.57 324.43 360.3 327 359 C329.57 357.7 332.22 357 335 354.6 C337.78 352.2 341.02 348.12 343.7 344.6 C346.38 341.08 349.05 336.37 351.1 333.5 C353.15 330.63 355.18 328.42 356 327.4" stroke="#c24ec8" stroke-width="1.6" fill="none" stroke-linejoin="round"/>
<path d="M346.2 331 C347 330.67 349.37 329.6 351 329 C352.63 328.4 355.17 327.67 356 327.4" stroke="#c24ec8" stroke-width="1.4" fill="none" stroke-linejoin="round"/>
<rect x="63.5" y="300.5" width="100.5" height="97.5" fill="#fff" stroke="#666" stroke-width="1"/>
<path d="M72.6 316.7 H99.2" stroke="#333333" stroke-width="1.7000000000000002"/>
<text x="102.2" y="320.6" font-size="10.2" fill="#262626" style="stroke-width:0.2px">sHA-Ti</text>
<path d="M72.6 329.9 H99.2" stroke="#c84e3c" stroke-width="1.5" stroke-dasharray="1.6 1.1"/>
<text x="102.2" y="333.8" font-size="10.2" fill="#262626" style="stroke-width:0.2px">fHA-Ti</text>
<path d="M72.6 343.1 H99.2" stroke="#78da78" stroke-width="1.7000000000000002"/>
<text x="102.2" y="347" font-size="10.2" fill="#262626" style="stroke-width:0.2px">nHA-Ti</text>
<path d="M72.6 356.3 H99.2" stroke="#a89cd8" stroke-width="1.5"/>
<text x="102.2" y="360.2" font-size="10.2" fill="#262626" style="stroke-width:0.2px">sHA/CNT-Ti</text>
<path d="M72.6 369.5 H99.2" stroke="#66d6da" stroke-width="1.9"/>
<text x="102.2" y="373.4" font-size="10.2" fill="#262626" style="stroke-width:0.2px">AR-Ti</text>
<path d="M72.6 382.7 H99.2" stroke="#c24ec8" stroke-width="1.9"/>
<text x="102.2" y="386.6" font-size="10.2" fill="#262626" style="stroke-width:0.2px">HT-Ti</text></svg>
</body></html>
